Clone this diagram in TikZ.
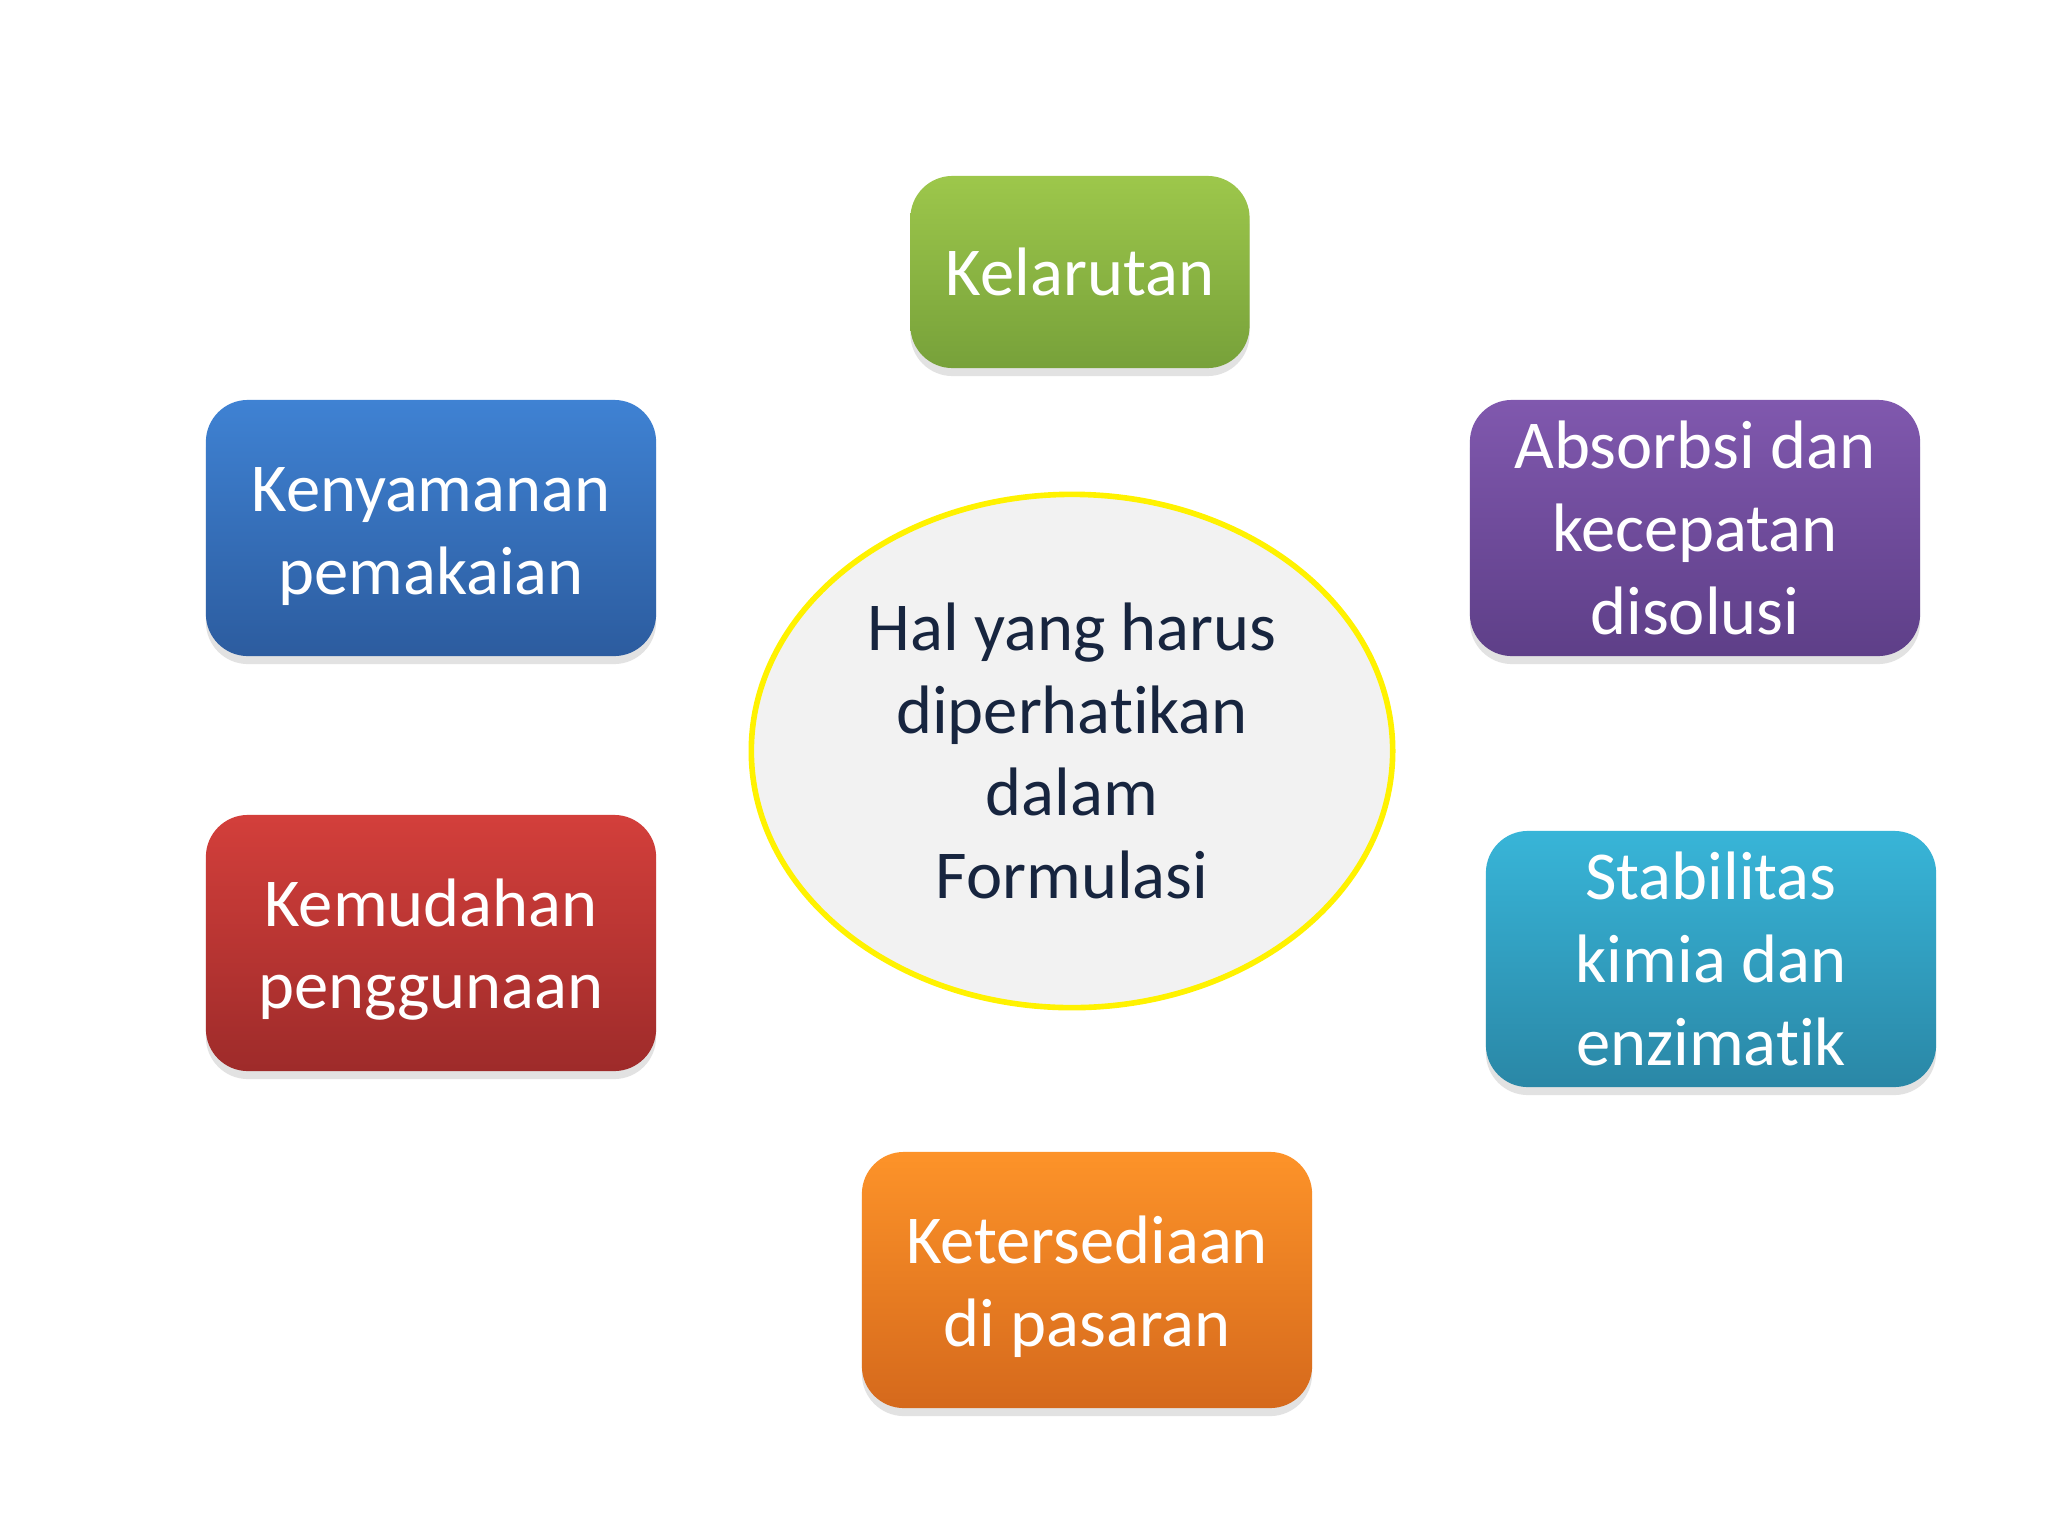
\documentclass[tikz,border=0pt]{standalone}
\usepackage{fontspec}
\setmainfont{Carlito}[RawFeature=-liga]
\usepackage{tikz}
\usetikzlibrary{shadows, shapes.geometric}

\definecolor{grnTop}{HTML}{9DC74B}
\definecolor{grnBot}{HTML}{77A13A}
\definecolor{bluTop}{HTML}{3F82D3}
\definecolor{bluBot}{HTML}{2C5C9F}
\definecolor{purTop}{HTML}{8058AE}
\definecolor{purBot}{HTML}{5E3F88}
\definecolor{redTop}{HTML}{D33F3B}
\definecolor{redBot}{HTML}{9E2B2A}
\definecolor{cyaTop}{HTML}{38B5D8}
\definecolor{cyaBot}{HTML}{2A87A6}
\definecolor{orgTop}{HTML}{FD9329}
\definecolor{orgBot}{HTML}{D5691C}
\definecolor{navyTxt}{HTML}{17253F}

\begin{document}
\begin{tikzpicture}[x=0.01cm, y=-0.01cm,
	box/.style={rounded corners=0.42cm, minimum width=4.5cm, minimum height=2.56cm,
		align=center, text=white, font=\fontsize{19.5}{23.5}\selectfont,
		drop shadow={shadow xshift=0pt, shadow yshift=-0.08cm, fill=black!25, opacity=0.45}},
	twoline/.style={text height=40.8pt},
	core/.style={ellipse, draw=yellow, line width=1.6pt, fill=black!5,
		minimum width=6.41cm, minimum height=5.13cm, align=center, text=navyTxt,
		font=\fontsize{19.5}{23.5}\selectfont}]
	
	\useasboundingbox (0,0) rectangle (2048,1536);
	
	\node [core] (center) at (1072, 751) {Hal yang harus\\diperhatikan\\dalam\\Formulasi};
	
	\node [box, top color=grnTop, bottom color=grnBot, minimum width=3.39cm, minimum height=1.92cm]
		(kelarutan)   at (1080, 272) {Kelarutan};
	\node [box, twoline, top color=bluTop, bottom color=bluBot] (kenyamanan)   at ( 431, 528) {Kenyamanan\\pemakaian};
	\node [box, top color=purTop, bottom color=purBot]          (absorbsi)     at (1695, 528) {Absorbsi dan\\kecepatan\\disolusi};
	\node [box, twoline, top color=redTop, bottom color=redBot] (kemudahan)    at ( 431, 943) {Kemudahan\\penggunaan};
	\node [box, top color=cyaTop, bottom color=cyaBot]          (stabilitas)   at (1711, 959) {Stabilitas\\kimia dan\\enzimatik};
	\node [box, twoline, top color=orgTop, bottom color=orgBot] (ketersediaan) at (1087,1280) {Ketersediaan\\di pasaran};
	
\end{tikzpicture}
\end{document}
